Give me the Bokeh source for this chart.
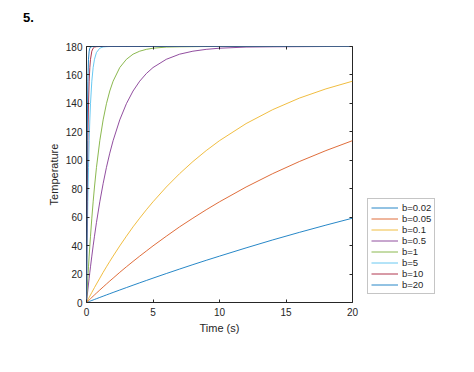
from bokeh.plotting import figure
from bokeh.layouts import row, column
from bokeh.models import Range1d, LinearAxis, Legend, LegendItem, FixedTicker, Div
from bokeh.embed import file_html
from bokeh.resources import INLINE

# Time samples (s)
time_s = [0, 0.02, 0.05, 0.1, 0.15, 0.2, 0.25, 0.3, 0.4, 0.5, 0.6, 0.75, 1, 1.25, 1.5, 1.75,
          2, 2.5, 3, 3.5, 4, 4.5, 5, 6, 7, 8, 9, 10, 12, 14, 16, 18, 20]

# Temperature curves
temp_b002 = [0, 0.07, 0.18, 0.36, 0.54, 0.72, 0.90, 1.08, 1.43, 1.79, 2.15, 2.68, 3.56, 4.44, 5.32, 6.19,
             7.06, 8.78, 10.48, 12.17, 13.84, 15.49, 17.13, 20.36, 23.52, 26.62, 29.66, 32.6, 38.4, 44.0, 49.3, 54.4, 59.3]
temp_b005 = [0, 0.18, 0.45, 0.90, 1.34, 1.79, 2.24, 2.68, 3.56, 4.44, 5.32, 6.62, 8.78, 10.9, 13.0, 15.1,
             17.1, 21.2, 25.1, 28.9, 32.6, 36.2, 39.8, 46.6, 53.2, 59.3, 65.2, 70.8, 81.2, 90.6, 99.1, 106.8, 113.8]
temp_b01 = [0, 0.36, 0.90, 1.79, 2.68, 3.56, 4.44, 5.32, 7.06, 8.78, 10.5, 13.0, 17.1, 21.2, 25.1, 28.9,
            32.6, 39.8, 46.6, 53.2, 59.3, 65.2, 70.8, 81.2, 90.6, 99.1, 106.8, 113.8, 125.8, 135.6, 143.7, 150.2, 155.6]
temp_b05 = [0, 1.79, 4.44, 8.78, 13.0, 17.1, 21.2, 25.1, 32.6, 39.8, 46.6, 56.3, 70.8, 83.6, 95.0, 105.0,
            113.8, 128.4, 139.8, 148.7, 155.6, 161.0, 165.2, 171.0, 174.6, 176.7, 178.0, 178.8, 179.6, 179.8, 179.9, 180.0, 180.0]
temp_b1 = [0, 3.56, 8.78, 17.1, 25.1, 32.6, 39.8, 46.6, 59.3, 70.8, 81.2, 95.0, 113.8, 128.4, 139.8, 148.7,
           155.6, 165.2, 171.0, 174.6, 176.7, 178.0, 178.8, 179.6, 179.8, 179.9, 180, 180, 180, 180, 180, 180, 180]
temp_b5 = [0, 17.1, 39.8, 70.8, 95.0, 113.8, 128.4, 139.8, 155.6, 165.2, 171.0, 175.8, 178.8, 179.7, 179.9, 180,
           180, 180, 180, 180, 180, 180, 180, 180, 180, 180, 180, 180, 180, 180, 180, 180, 180]
temp_b10 = [0, 32.6, 70.8, 113.8, 139.8, 155.6, 165.2, 171.0, 176.7, 178.8, 179.6, 179.9, 180, 180, 180, 180,
            180, 180, 180, 180, 180, 180, 180, 180, 180, 180, 180, 180, 180, 180, 180, 180, 180]
temp_b20 = [0, 59.3, 113.8, 155.6, 171.0, 176.7, 178.8, 179.6, 179.9, 180, 180, 180, 180, 180, 180, 180,
            180, 180, 180, 180, 180, 180, 180, 180, 180, 180, 180, 180, 180, 180, 180, 180, 180]

series_labels = ["b=0.02", "b=0.05", "b=0.1", "b=0.5", "b=1", "b=5", "b=10", "b=20"]
series_values = [temp_b002, temp_b005, temp_b01, temp_b05, temp_b1, temp_b5, temp_b10, temp_b20]
colors = ["#0072BD", "#D95319", "#EDB120", "#7E2F8E", "#77AC30", "#4DBEEE", "#A2142F", "#0072BD"]

x_ticks = [0, 5, 10, 15, 20]
y_ticks = [0, 20, 40, 60, 80, 100, 120, 140, 160, 180]

FONT = "Liberation Sans"
DARK = "#262626"

title_div = Div(text="5.", width=120, height=20,
                styles={"font-family": FONT, "font-size": "13px", "font-weight": "bold",
                        "color": "black", "padding-left": "18px", "padding-top": "4px",
                        "box-sizing": "border-box"})

p = figure(width=360, height=322, output_backend="svg", toolbar_location=None,
           title_location=None,
           x_range=Range1d(0, 20), y_range=Range1d(0, 180),
           min_border_left=86, min_border_top=16, min_border_right=8, min_border_bottom=50,
           x_axis_label="Time (s)", y_axis_label="Temperature")
p.background_fill_color = "white"
p.border_fill_color = "white"
p.outline_line_color = DARK
p.outline_line_width = 1
p.xgrid.visible = False
p.ygrid.visible = False

renderers = []
for vals, col in zip(series_values, colors):
    r = p.line(time_s, vals, line_color=col, line_width=1, line_alpha=0.85)
    renderers.append(r)

def style_axis(ax, ticks, show_labels=True):
    ax.ticker = FixedTicker(ticks=ticks)
    ax.axis_line_color = None
    ax.major_tick_in = 3
    ax.major_tick_out = 0
    ax.minor_tick_line_color = None
    ax.major_tick_line_color = DARK
    ax.major_label_text_font = FONT
    ax.major_label_text_font_size = "10px"
    ax.major_label_text_color = DARK
    ax.axis_label_text_font = FONT
    ax.axis_label_text_font_size = "11px"
    ax.axis_label_text_font_style = "normal"
    ax.axis_label_text_color = DARK
    if not show_labels:
        ax.major_label_overrides = {t: "" for t in ticks}
        ax.major_label_text_font_size = "1px"
        ax.major_label_standoff = 0

style_axis(p.xaxis[0], x_ticks)
style_axis(p.yaxis[0], y_ticks)
p.xaxis.major_label_standoff = 5
p.yaxis.major_label_standoff = 4
p.xaxis.axis_label_standoff = 3
p.yaxis.axis_label_standoff = 3

top_ax = LinearAxis()
style_axis(top_ax, x_ticks, show_labels=False)
p.add_layout(top_ax, "above")
right_ax = LinearAxis()
style_axis(right_ax, y_ticks, show_labels=False)
p.add_layout(right_ax, "right")

# Separate legend panel to the right of the axes (its lines lie outside its own ranges)
lg = figure(width=110, height=322, output_backend="svg", toolbar_location=None,
            title_location=None,
            x_range=Range1d(-10, -9), y_range=Range1d(-10, -9),
            x_axis_location=None, y_axis_location=None,
            min_border_left=0, min_border_right=0, min_border_top=0, min_border_bottom=0)
lg.outline_line_color = None
lg.xgrid.visible = False
lg.ygrid.visible = False
lg_renderers = [lg.line(time_s, vals, line_color=col, line_width=1, line_alpha=0.85)
                for vals, col in zip(series_values, colors)]

legend = Legend(items=[LegendItem(label=l, renderers=[r]) for l, r in zip(series_labels, lg_renderers)],
                location=(7, 8), orientation="vertical")
legend.label_text_font = FONT
legend.label_text_font_size = "9.5px"
legend.label_text_color = DARK
legend.label_height = 11
legend.glyph_height = 11
legend.glyph_width = 27
legend.label_standoff = 4
legend.spacing = 0
legend.padding = 3
legend.margin = 0
legend.border_line_color = "#8c8c8c"
legend.border_line_width = 1
legend.background_fill_alpha = 1
lg.add_layout(legend, "center")

layout = column(title_div, row(p, lg))
open("out.html", "w").write(file_html(layout, INLINE))
